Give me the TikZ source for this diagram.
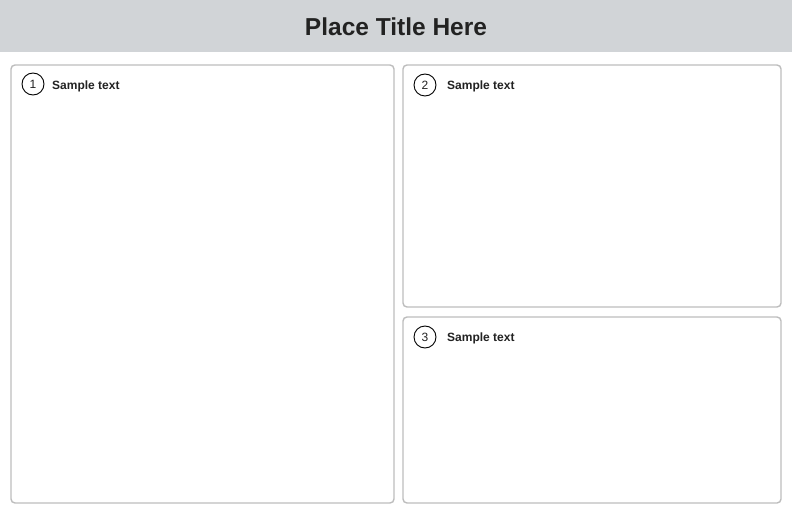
\documentclass[tikz,border=0pt]{standalone}
\usepackage{fontspec}
\setmainfont{Liberation Sans}
\definecolor{band}{HTML}{D1D4D7}
\definecolor{frame}{HTML}{BDBDBD}
\definecolor{ink}{HTML}{222222}
\begin{document}
\begin{tikzpicture}[x=1pt,y=-1pt,
  panel/.style={draw=frame,line width=1.4pt,rounded corners=4pt,fill=white},
  num/.style={circle,draw=black,line width=0.9pt,minimum size=22pt,inner sep=0pt,font=\fontsize{12}{14}\selectfont,text=ink},
  lbl/.style={anchor=west,inner sep=0pt,font=\bfseries\fontsize{12}{14}\selectfont,text=ink}]
\useasboundingbox (0,0) rectangle (792,513);
\fill[white] (0,0) rectangle (792,513);
\fill[band] (0,0) rectangle (792,52);
\node[font=\bfseries\fontsize{24.5}{28}\selectfont,text=ink] (title) at (396,26.5) {Place Title Here};
\draw[panel] (11,65) rectangle (394,503);
\draw[panel] (403,65) rectangle (781,307);
\draw[panel] (403,317) rectangle (781,503);
\node[num] (c1) at (33,84) {1};
\node[lbl] (t1) at (52,86) {Sample text};
\node[num] (c2) at (425,85) {2};
\node[lbl] (t2) at (447,86) {Sample text};
\node[num] (c3) at (425,337) {3};
\node[lbl] (t3) at (447,338) {Sample text};
\end{tikzpicture}
\end{document}
